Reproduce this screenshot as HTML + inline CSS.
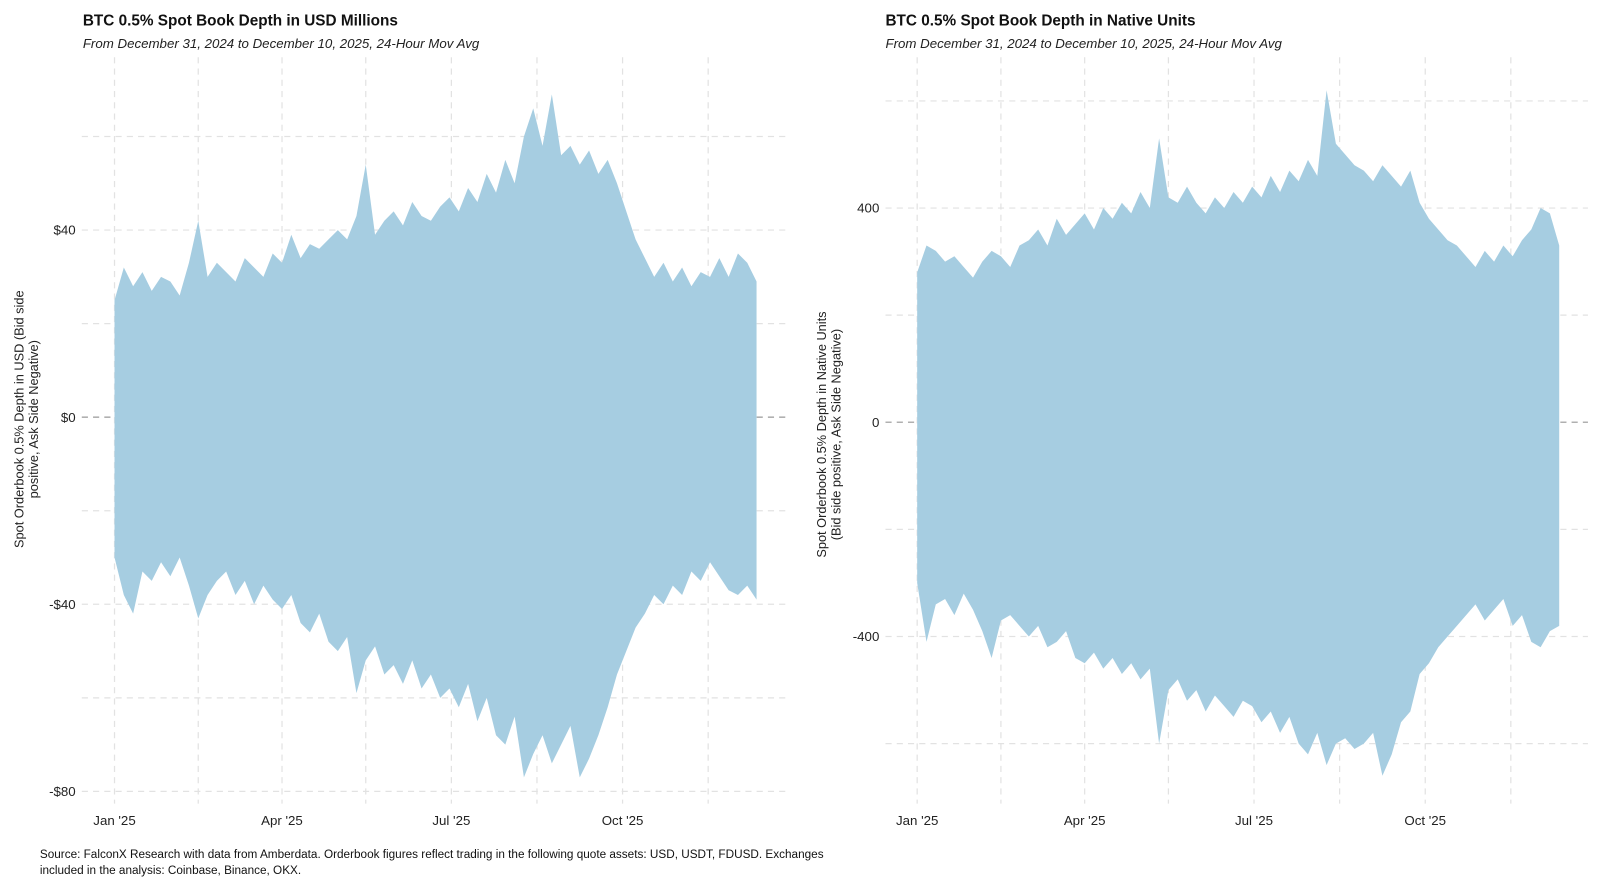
<!DOCTYPE html>
<html><head><meta charset="utf-8"><style>
body{margin:0;background:#fff;width:1600px;height:881px;overflow:hidden;font-family:"Liberation Sans",sans-serif}
svg text{font-family:"Liberation Sans",sans-serif}
</style></head><body>
<svg id="chart" width="1600" height="881" viewBox="0 0 1600 881" xmlns="http://www.w3.org/2000/svg">
<g transform="scale(1.0225)">
<text x="81" y="25" font-size="15" font-weight="bold" fill="#111">BTC 0.5% Spot Book Depth in USD Millions</text>
<text x="81" y="47" font-size="13" font-style="italic" fill="#222">From December 31, 2024 to December 10, 2025, 24-Hour Mov Avg</text>
<text x="866" y="25" font-size="15" font-weight="bold" fill="#111">BTC 0.5% Spot Book Depth in Native Units</text>
<text x="866" y="47" font-size="13" font-style="italic" fill="#222">From December 31, 2024 to December 10, 2025, 24-Hour Mov Avg</text>
<text transform="translate(23,410) rotate(-90)" text-anchor="middle" font-size="12.5" fill="#222"><tspan x="0" dy="0">Spot Orderbook 0.5% Depth in USD (Bid side</tspan><tspan x="0" dy="14">positive, Ask Side Negative)</tspan></text>
<text transform="translate(808,425) rotate(-90)" text-anchor="middle" font-size="12.5" fill="#222"><tspan x="0" dy="0">Spot Orderbook 0.5% Depth in Native Units</tspan><tspan x="0" dy="14">(Bid side positive, Ask Side Negative)</tspan></text>
<text x="39" y="839" font-size="11.5" fill="#111"><tspan x="39" dy="0">Source: FalconX Research with data from Amberdata. Orderbook figures reflect trading in the following quote assets: USD, USDT, FDUSD. Exchanges</tspan><tspan x="39" dy="16">included in the analysis: Coinbase, Binance, OKX.</tspan></text>
<g id="left"></g><g id="right"></g>
</g>
</svg>
<script>
const monthLabels=["Jan '25","Apr '25","Jul '25","Oct '25"];
const monthDays=[0,90,181,273];
const minorDays=[45,135,227,319];
const stepDays=5;
const usdUpper=[25,32,28,31,27,30, 29,26,33,42,30,33, 31,29,34,32,30,35, 33,39,34,37,36,38, 40,38,43,54,39,42, 44,41,46,43,42,45, 47,44,49,46,52,48, 55,50,60,66,58,69, 56,58,54,57,52,55, 50,44,38,34,30,33, 29,32,28,31,30,34, 30,35,33,29];
const usdLower=[-30,-38,-42,-33,-35,-31, -34,-30,-36,-43,-38,-35, -33,-38,-35,-40,-36,-39, -41,-38,-44,-46,-42,-48, -50,-47,-59,-52,-49,-55, -53,-57,-52,-58,-55,-60, -58,-62,-57,-65,-60,-68, -70,-64,-77,-72,-68,-74, -70,-66,-77,-73,-68,-62, -55,-50,-45,-42,-38,-40, -36,-38,-33,-35,-31,-34, -37,-38,-36,-39];
const btcUpper=[280,330,320,300,310,290, 270,300,320,310,290,330, 340,360,330,380,350,370, 390,360,400,380,410,390, 430,400,530,420,410,440, 410,390,420,400,430,410, 440,420,460,430,470,450, 490,460,620,520,500,480, 470,450,480,460,440,470, 410,380,360,340,330,310, 290,320,300,330,310,340, 360,400,390,330];
const btcLower=[-300,-410,-340,-330,-360,-320, -350,-390,-440,-370,-360,-380, -400,-380,-420,-410,-390,-440, -450,-430,-460,-440,-470,-450, -480,-460,-600,-500,-480,-520, -500,-540,-510,-530,-550,-520, -530,-560,-540,-580,-550,-600, -620,-580,-640,-600,-590,-610, -600,-580,-660,-620,-560,-540, -470,-450,-420,-400,-380,-360, -340,-370,-350,-330,-380,-360, -410,-420,-390,-380];
const usdTicks=[40,0,-40,-80];const usdTickLabels=["$40","$0","-$40","-$80"];const usdMinor=[60,20,-20,-60];
const btcTicks=[400,0,-400];const btcTickLabels=["400","0","-400"];const btcMinor=[600,200,-200,-600];
const NS="http://www.w3.org/2000/svg";
function mk(tag,attrs,parent){const e=document.createElementNS(NS,tag);for(const k in attrs)e.setAttribute(k,attrs[k]);parent.appendChild(e);return e;}
function panel(g,cfg){
  const x=d=>cfg.x0+d*cfg.pxDay;
  const y=v=>cfg.y0-v*cfg.pxUnit;
  [...cfg.minor,...cfg.ticks].forEach(v=>{const l=mk('line',{x1:cfg.left,x2:cfg.right,y1:y(v),y2:y(v),stroke:v===0?'#b0b0b0':'#e2e2e2','stroke-width':v===0?1.5:1.2,'stroke-dasharray':'6,5'},g);
    
    });
  [...monthDays,...minorDays].forEach(d=>{const l=mk('line',{x1:x(d),x2:x(d),y1:cfg.top,y2:cfg.bottom,stroke:'#e2e2e2','stroke-width':1.2,'stroke-dasharray':'6,5'},g);
    
    });
  let pts=[];
  cfg.upper.forEach((v,i)=>pts.push(x(i*stepDays)+','+y(v)));
  for(let i=cfg.lower.length-1;i>=0;i--)pts.push(x(i*stepDays)+','+y(cfg.lower[i]));
  const p=mk('polygon',{points:pts.join(' '),fill:'#a6cde1'},g);
  
  
  cfg.ticks.forEach((v,i)=>{const t=mk('text',{x:cfg.left-6,y:y(v)+4.5,'text-anchor':'end','font-size':13,fill:'#222'},g);t.textContent=cfg.labels[i];
    
    });
  monthDays.forEach((d,i)=>{const t=mk('text',{x:x(d),y:cfg.bottom+21,'text-anchor':'middle','font-size':13,fill:'#222'},g);t.textContent=monthLabels[i];
    
    });
}
panel(document.getElementById('left'),{x0:112,pxDay:1.82,y0:408,pxUnit:4.575,left:80,right:768,top:56,bottom:786,upper:usdUpper,lower:usdLower,ticks:usdTicks,labels:usdTickLabels,minor:usdMinor});
panel(document.getElementById('right'),{x0:897,pxDay:1.82,y0:413,pxUnit:0.5238,left:866,right:1553,top:56,bottom:786,upper:btcUpper,lower:btcLower,ticks:btcTicks,labels:btcTickLabels,minor:btcMinor});
</script>
</body></html>
